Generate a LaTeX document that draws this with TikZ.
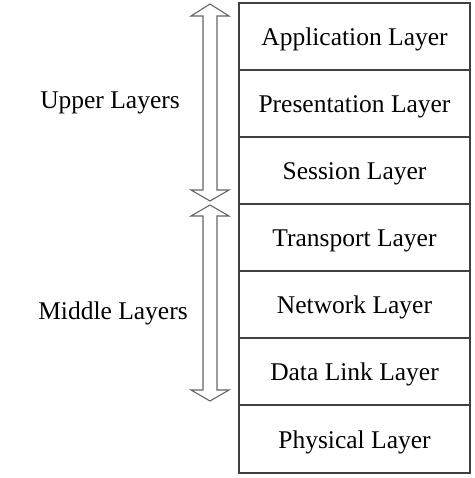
\documentclass[tikz,border=0pt]{standalone}
\usepackage{fontspec}
\setmainfont{Liberation Serif}
\begin{document}
\begin{tikzpicture}[x=1pt,y=-1pt,
  layerbox/.style={draw=black!75,line width=1.1pt,minimum width=231pt,minimum height=67pt,inner sep=0pt},
  layertext/.style={font=\fontsize{25.5}{30}\selectfont,inner sep=0pt},
  lbl/.style={font=\fontsize{25.5}{30}\selectfont,inner sep=0pt},
  hollow/.style={draw=black!60,line width=1.1pt,fill=white}]
\useasboundingbox (0,0) rectangle (474,478);
\node[layerbox] (app) at (354.5,36.5) {};
\node[layerbox] (pres) at (354.5,103.5) {};
\node[layerbox] (sess) at (354.5,170.5) {};
\node[layerbox] (trans) at (354.5,237.5) {};
\node[layerbox] (net) at (354.5,304.5) {};
\node[layerbox] (dl) at (354.5,371.5) {};
\node[layerbox,minimum height=68pt] (phys) at (354.5,439) {};
\node[layertext] (tapp) at ([yshift=-3pt]app.center) {Application Layer};
\node[layertext] (tpres) at ([yshift=-3pt]pres.center) {Presentation Layer};
\node[layertext] (tsess) at ([yshift=-3pt]sess.center) {Session Layer};
\node[layertext] (ttrans) at ([yshift=-3pt]trans.center) {Transport Layer};
\node[layertext] (tnet) at ([yshift=-3pt]net.center) {Network Layer};
\node[layertext] (tdl) at ([yshift=-3pt]dl.center) {Data Link Layer};
\node[layertext] (tphys) at ([yshift=-3pt]phys.center) {Physical Layer};
\draw[hollow] (210,4) -- (229,16) -- (217,16) -- (217,190) -- (229,190) -- (210,201)
  -- (191,190) -- (203,190) -- (203,16) -- (191,16) -- cycle;
\draw[hollow] (210,205) -- (229,216) -- (217,216) -- (217,390) -- (229,390) -- (210,401)
  -- (191,390) -- (203,390) -- (203,216) -- (191,216) -- cycle;
\node[lbl] (upper) at (110,103) {Upper Layers};
\node[lbl] (middle) at (113,313) {Middle Layers};
\end{tikzpicture}
\end{document}
